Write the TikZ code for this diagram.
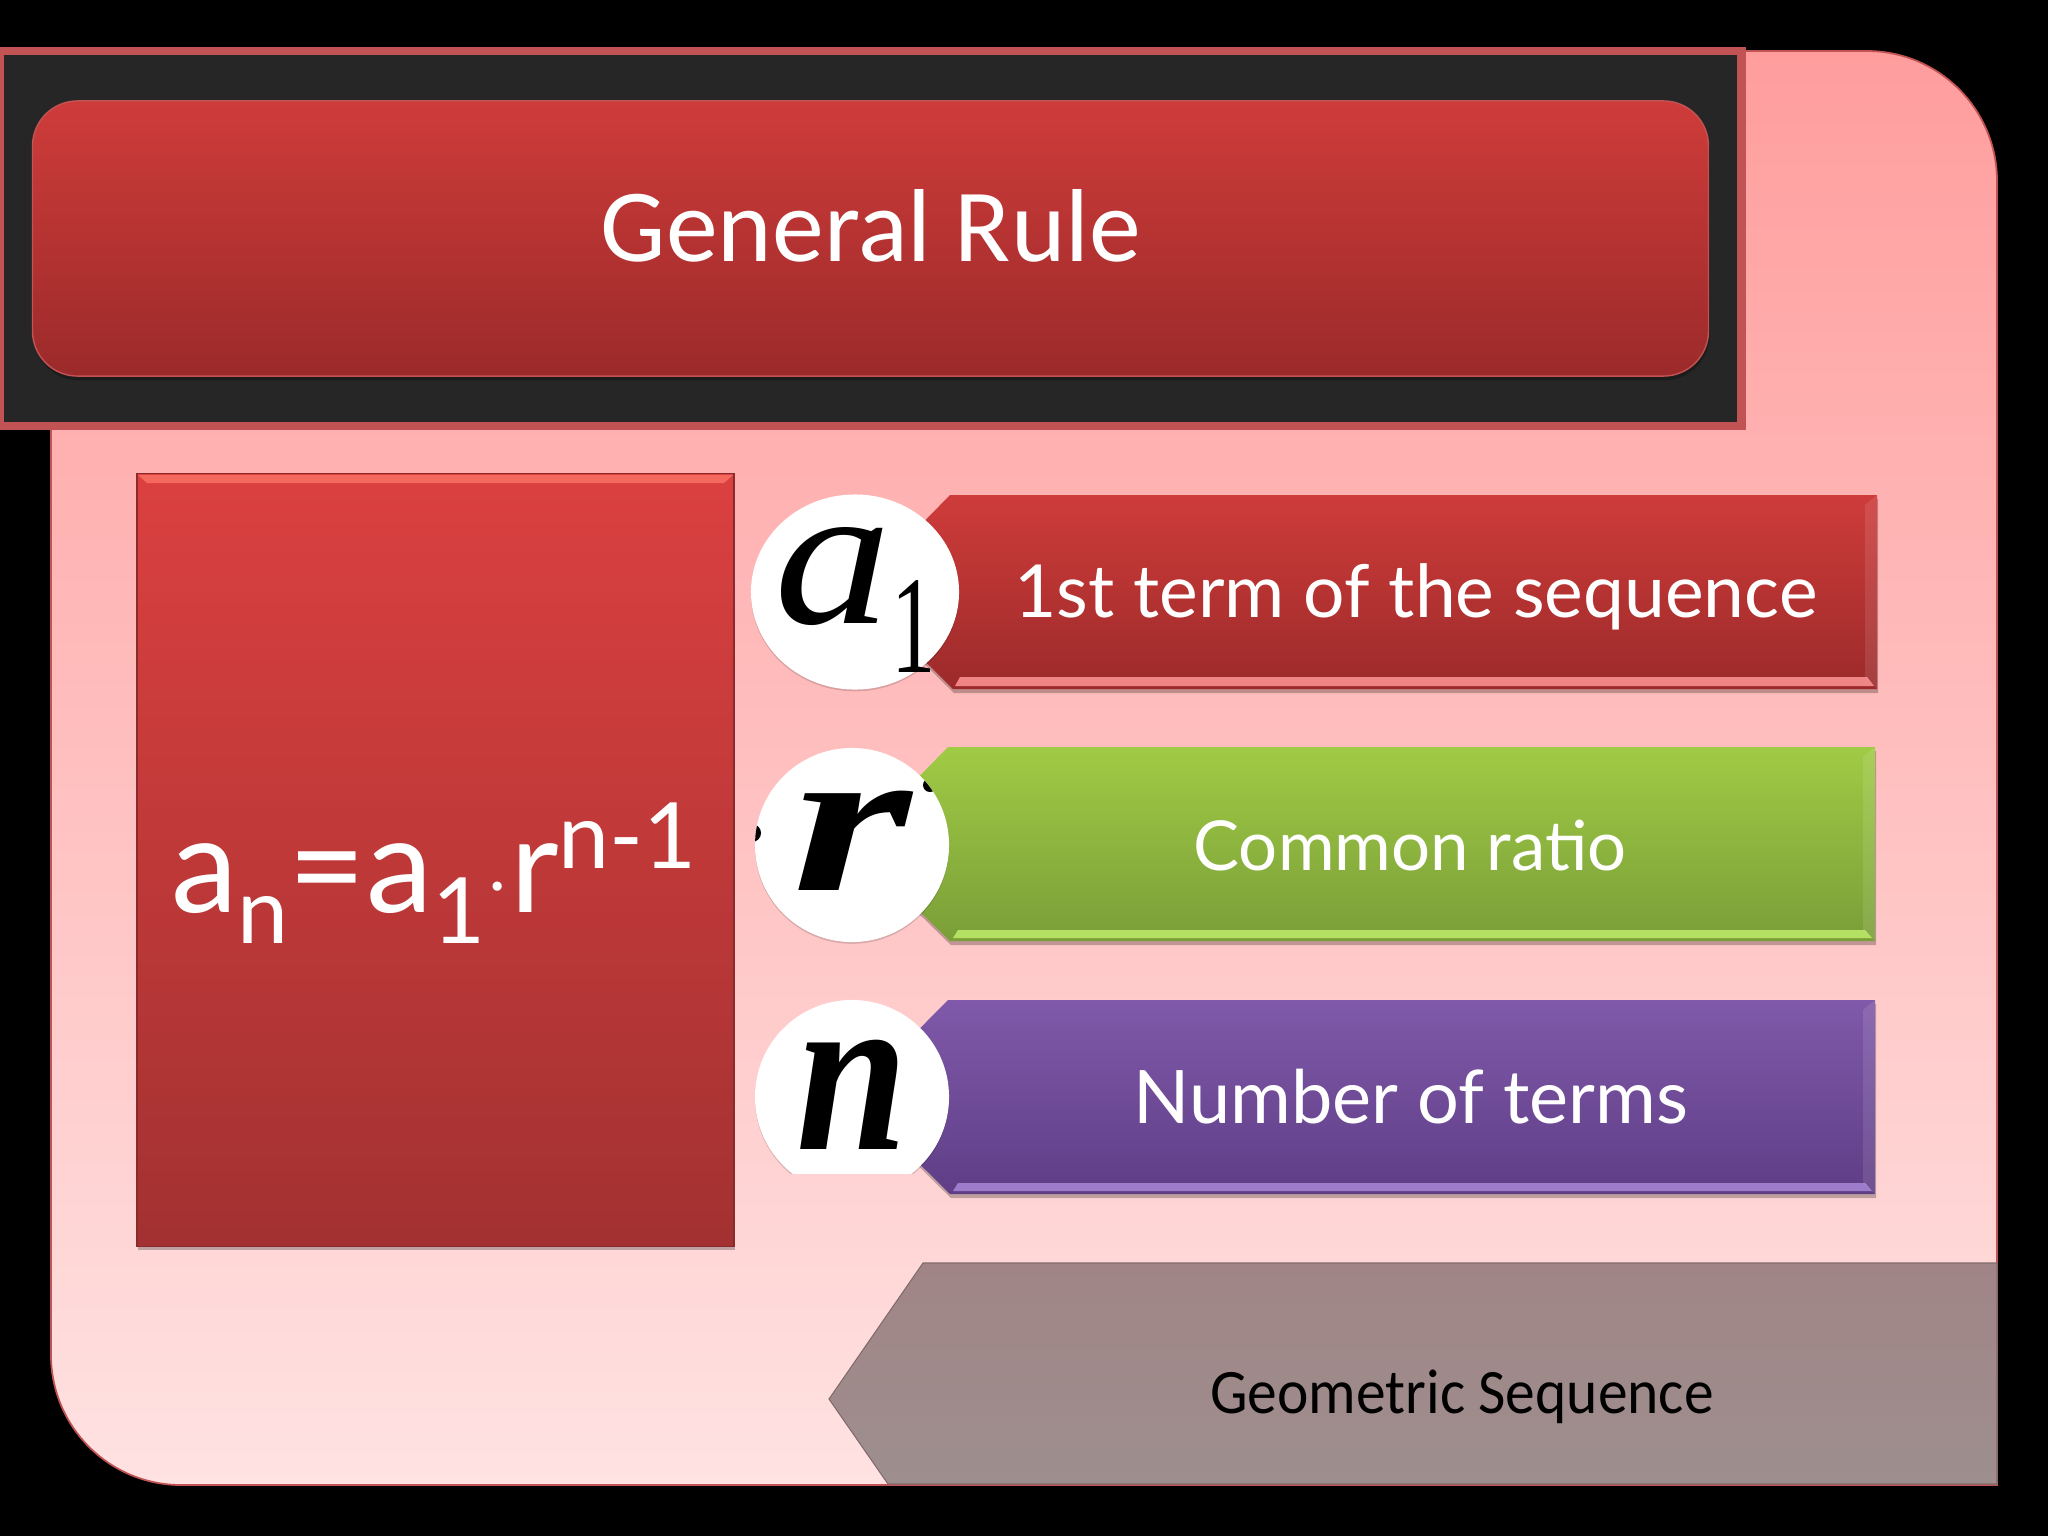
\documentclass[tikz,border=0pt]{standalone}
\usepackage{fontspec}
\usepackage{graphicx}
\usetikzlibrary{shapes.geometric,shadows}
\setmainfont{Lato}
\newfontfamily\headfont{Carlito}
\newfontfamily\letterfont{Liberation Serif}
\definecolor{panelTop}{HTML}{FF9D9D}
\definecolor{panelBot}{HTML}{FFE2E2}
\definecolor{bandLine}{HTML}{C25355}
\definecolor{bandFill}{HTML}{262626}
\definecolor{redTop}{HTML}{CE3C3A}
\definecolor{redMid}{HTML}{B93533}
\definecolor{redBot}{HTML}{9C2A2A}
\definecolor{redStrip}{HTML}{F08585}
\definecolor{boxTop}{HTML}{DB4040}
\definecolor{boxMid}{HTML}{CB3F3C}
\definecolor{boxBot}{HTML}{A33131}
\definecolor{boxStrip}{HTML}{F4685E}
\definecolor{greenTop}{HTML}{A0CB45}
\definecolor{greenBot}{HTML}{7A9E38}
\definecolor{greenStrip}{HTML}{B4E063}
\definecolor{purpleTop}{HTML}{8059AA}
\definecolor{purpleBot}{HTML}{5F3E86}
\definecolor{purpleStrip}{HTML}{9C7CCB}
\definecolor{greyTop}{HTML}{A18586}
\definecolor{greyBot}{HTML}{9E8E8E}
\tikzset{
    softshadow/.style = {drop shadow={shadow xshift=.3pt, shadow yshift=-1.2pt,
                                      opacity=.25, fill=black}},
    labeltext/.style = {anchor=base, inner sep=0pt, text=white, font=\fontsize{21}{25}\selectfont},
    letterdisc/.style = {inner sep=0pt, fill=white, text=black,
                         drop shadow={shadow xshift=0pt, shadow yshift=-.5pt, opacity=.15, fill=black}}
}
\begin{document}
\begin{tikzpicture}[x=0.01cm, y=-0.01cm]
    \useasboundingbox (0,0) rectangle (2048,1536);
    \fill[black] (0,0) rectangle (2048,1536);
    % slide panel
    \draw[bandLine, line width=.5pt, top color=panelTop, bottom color=panelBot]
        (51,51) [rounded corners=1.3cm] -- (1997,51) [sharp corners] -- (1997,1485)
        [rounded corners=1.3cm] -- (51,1485) [sharp corners] -- cycle;
    % heading
    \node[shape=rectangle, draw=bandLine, fill=bandFill, line width=2.3pt, inner sep=0pt,
          minimum width=17.41cm, minimum height=3.75cm] (band) at (870.5,238.5) {};
    \node[shape=rectangle, rounded corners=.45cm, draw=bandLine, line width=.4pt, inner sep=0pt,
          top color=redTop, middle color=redMid, bottom color=redBot, softshadow,
          minimum width=16.75cm, minimum height=2.75cm] (titlebox) at (870.5,238.5) {};
    \node[anchor=base, inner sep=0pt, text=white, font=\headfont\fontsize{29.5}{36}\selectfont]
        (titletext) at (871,261) {General Rule};
    % formula box
    \node[shape=rectangle, draw=boxBot!85!black, line width=.4pt, inner sep=0pt,
          top color=boxTop, middle color=boxMid, bottom color=boxBot, softshadow,
          minimum width=5.97cm, minimum height=7.72cm] (formulabox) at (435.5,860) {};
    \fill[boxStrip] (138,475) -- (733,475) -- (724,483) -- (147,483) -- cycle;
    \node[anchor=base, inner sep=0pt, text=white, font=\fontsize{38}{44}\selectfont] (formula) at (434,912)
        {a\raisebox{-9pt}{\fontsize{26}{30}\selectfont n}=a\raisebox{-9pt}{\fontsize{26}{30}\selectfont 1}\raisebox{1pt}{$\cdot$}r\raisebox{12.5pt}{\fontsize{26}{30}\selectfont n-1}};
    % red bar
    \path[top color=redTop, middle color=redMid, bottom color=redBot, softshadow]
        (950,495) -- (1877,495) -- (1877,689) -- (953,689) -- (855,592) -- cycle;
    \fill[redStrip] (955,686) -- (960,677) -- (1867,677) -- (1874,686) -- cycle;
    \fill[white, fill opacity=.1] (1877,495) -- (1865,505) -- (1865,677) -- (1877,689) -- cycle;
    % green bar
    \path[top color=greenTop, bottom color=greenBot, softshadow]
        (948,747) -- (1875,747) -- (1875,941) -- (950,941) -- (852,845) -- cycle;
    \fill[greenStrip] (953,938) -- (958,930) -- (1865,930) -- (1872,938) -- cycle;
    \fill[white, fill opacity=.1] (1875,747) -- (1863,757) -- (1863,930) -- (1875,941) -- cycle;
    % purple bar
    \path[top color=purpleTop, bottom color=purpleBot, softshadow]
        (948,1000) -- (1875,1000) -- (1875,1194) -- (950,1194) -- (852,1097) -- cycle;
    \fill[purpleStrip] (953,1191) -- (958,1183) -- (1865,1183) -- (1872,1191) -- cycle;
    \fill[white, fill opacity=.1] (1875,1000) -- (1863,1010) -- (1863,1183) -- (1875,1194) -- cycle;
    % discs
    \node[shape=ellipse, letterdisc, minimum width=2.08cm, minimum height=1.95cm] (letterA) at (855,592)
        {\makebox[0pt]{\smash{\raisebox{-9pt}{\letterfont\itshape\fontsize{58}{58}\selectfont \scalebox{1.15}[1]{a}\raisebox{-14pt}{\upshape\scalebox{.7}[1.1]{\fontsize{36}{36}\selectfont 1}}}}}};
    \node[shape=circle, letterdisc, minimum size=1.94cm] (letterR) at (852,845)
        {\makebox[0pt]{\smash{\raisebox{-13pt}{\scalebox{1.45}[1]{\letterfont\itshape\bfseries\fontsize{60}{60}\selectfont r}}}}};
    \begin{scope}
        \clip (852,845) circle (97);
        \fill[black] (752,833) circle (9);
        \fill[black] (930,785) circle (7);
    \end{scope}
    \begin{scope}
        \clip (740,990) rectangle (960,1173);
        \node[shape=circle, letterdisc, minimum size=1.94cm] (letterN) at (852,1097)
            {\makebox[0pt]{\smash{\raisebox{-15pt}{\scalebox{.95}[1.1]{\letterfont\itshape\bfseries\fontsize{60}{60}\selectfont n}}}}};
    \end{scope}
    % labels
    \node[labeltext, font=\fontsize{20.8}{25}\selectfont] (firstterm) at (1416,617) {1st term of the sequence};
    \node[labeltext, font=\fontsize{19.6}{25}\selectfont] (ratio) at (1410,870) {Common ratio};
    \node[labeltext] (terms) at (1411,1123) {Number of terms};
    % footer tab
    \path[top color=greyTop, bottom color=greyBot, draw=greyTop!80!black, line width=.3pt]
        (923,1263) -- (1997,1263) -- (1997,1484) -- (888,1484) -- (829,1399) -- cycle;
    \node[anchor=base, inner sep=0pt, text=black, font=\headfont\fontsize{18}{22}\selectfont]
        (footer) at (1462,1413) {\scalebox{.94}[1]{Geometric Sequence}};
\end{tikzpicture}
\end{document}
